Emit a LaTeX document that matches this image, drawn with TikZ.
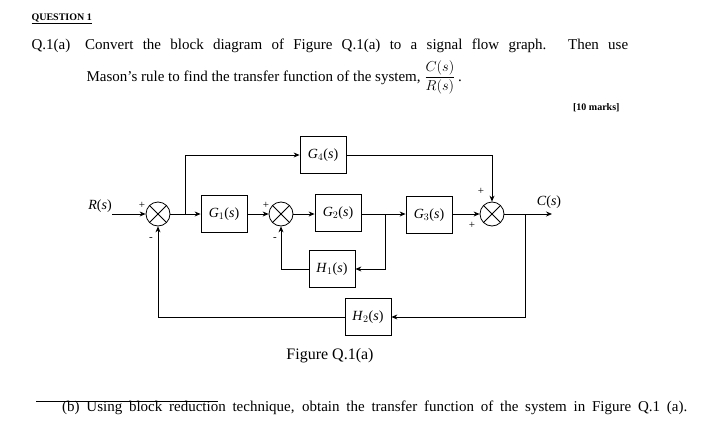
\documentclass[tikz,border=0pt]{standalone}
\usepackage{fontspec}
\setmainfont{Liberation Serif}
\usetikzlibrary{arrows.meta}
\begin{document}
\begin{tikzpicture}
  [x=1pt,y=-1pt,
   font=\fontsize{14}{16}\selectfont,
   body/.style={font=\fontsize{15}{18}\selectfont},
   block/.style={draw,thick,minimum width=46pt,minimum height=37pt,inner sep=0pt},
   sum/.style={draw,thick,circle,minimum size=24pt,inner sep=0pt,
     path picture={\draw[thick] (path picture bounding box.south west)--(path picture bounding box.north east)
       (path picture bounding box.north west)--(path picture bounding box.south east);}},
   sig/.style={font=\fontsize{11}{12}\selectfont,inner sep=0pt},
   line/.style={thick},
   arr/.style={thick,-{Stealth[length=6pt,width=5pt]}}]
  \useasboundingbox (0,0) rectangle (704,439);
  % heading text
  \node[anchor=base west,body,font=\bfseries] (q) at (28,20) {\underline{QUESTION 1}};
  \node[anchor=base west,body] (qa) at (28,49) {Q.1(a)};
  \node[anchor=base west,body,inner sep=0pt] (l1) at (85,49)
    {\makebox[543pt][s]{Convert the block diagram of Figure Q.1(a) to a signal flow graph. Then use}};
  \node[anchor=base west,body] (l2) at (83,81)
    {Mason's rule to find the transfer function of the system, $\displaystyle\frac{C(s)}{R(s)}$\,.};
  \node[anchor=base east,body,font=\bfseries] (mk) at (623,110) {[10 marks]};
  % blocks
  \node[sum] (s1) at (158,214) {};
  \node[block] (g1) at (224,214) {\textit{G}$_1$(\textit{s})};
  \node[sum] (s2) at (281,214) {};
  \node[block] (g2) at (338,213) {\textit{G}$_2$(\textit{s})};
  \node[block] (g3) at (429,215) {\textit{G}$_3$(\textit{s})};
  \node[sum] (s3) at (492,214) {};
  \node[block] (g4) at (323,155) {\textit{G}$_4$(\textit{s})};
  \node[block] (h1) at (332,269) {\textit{H}$_1$(\textit{s})};
  \node[block] (h2) at (368,317) {\textit{H}$_2$(\textit{s})};
  \coordinate (in) at (112,214);
  \coordinate (b1) at (185,214);
  \coordinate (b2) at (385,214);
  \coordinate (b3) at (525,214);
  \coordinate (out) at (552,214);
  \node[anchor=south] (R) at (100,216) {\textit{R}(\textit{s})};
  \node[anchor=south] (C) at (549,212) {\textit{C}(\textit{s})};
  % connectors
  \draw[arr] (in) -- (s1);
  \draw[line] (s1) -- (b1);
  \draw[arr] (b1) -- (g1);
  \draw[arr] (b1) |- (g4);
  \draw[arr] (g4) -| (s3);
  \draw[arr] (g1) -- (s2);
  \draw[arr] (s2) -- (s2 -| g2.west);
  \draw[line] (b2 -| g2.east) -- (b2);
  \draw[arr] (b2) -- (b2 -| g3.west);
  \draw[arr] (b2) |- (h1);
  \draw[arr] (h1) -| (s2);
  \draw[arr] (s3 -| g3.east) -- (s3);
  \draw[line] (s3) -- (b3);
  \draw[arr] (b3) -- (out);
  \draw[arr] (b3) |- (h2);
  \draw[arr] (h2) -| (s1);
  % signs
  \node[sig] (p1) at (142,205) {+};
  \node[sig] (m1) at (151,239) {-};
  \node[sig] (p2) at (266,205) {+};
  \node[sig] (m2) at (275,239) {-};
  \node[sig] (p3) at (481,191) {+};
  \node[sig] (p4) at (472,225) {+};
  % captions
  \node[anchor=base,font=\fontsize{16}{18}\selectfont] (fig) at (330,359) {Figure Q.1(a)};
  \node[anchor=base west,body,inner sep=0pt] (b) at (62,411)
    {\makebox[625pt][s]{(b) Using block reduction technique, obtain the transfer function of the system in Figure Q.1 (a).}};
  \draw[line] (36,401) -- (218,401);
\end{tikzpicture}
\end{document}
